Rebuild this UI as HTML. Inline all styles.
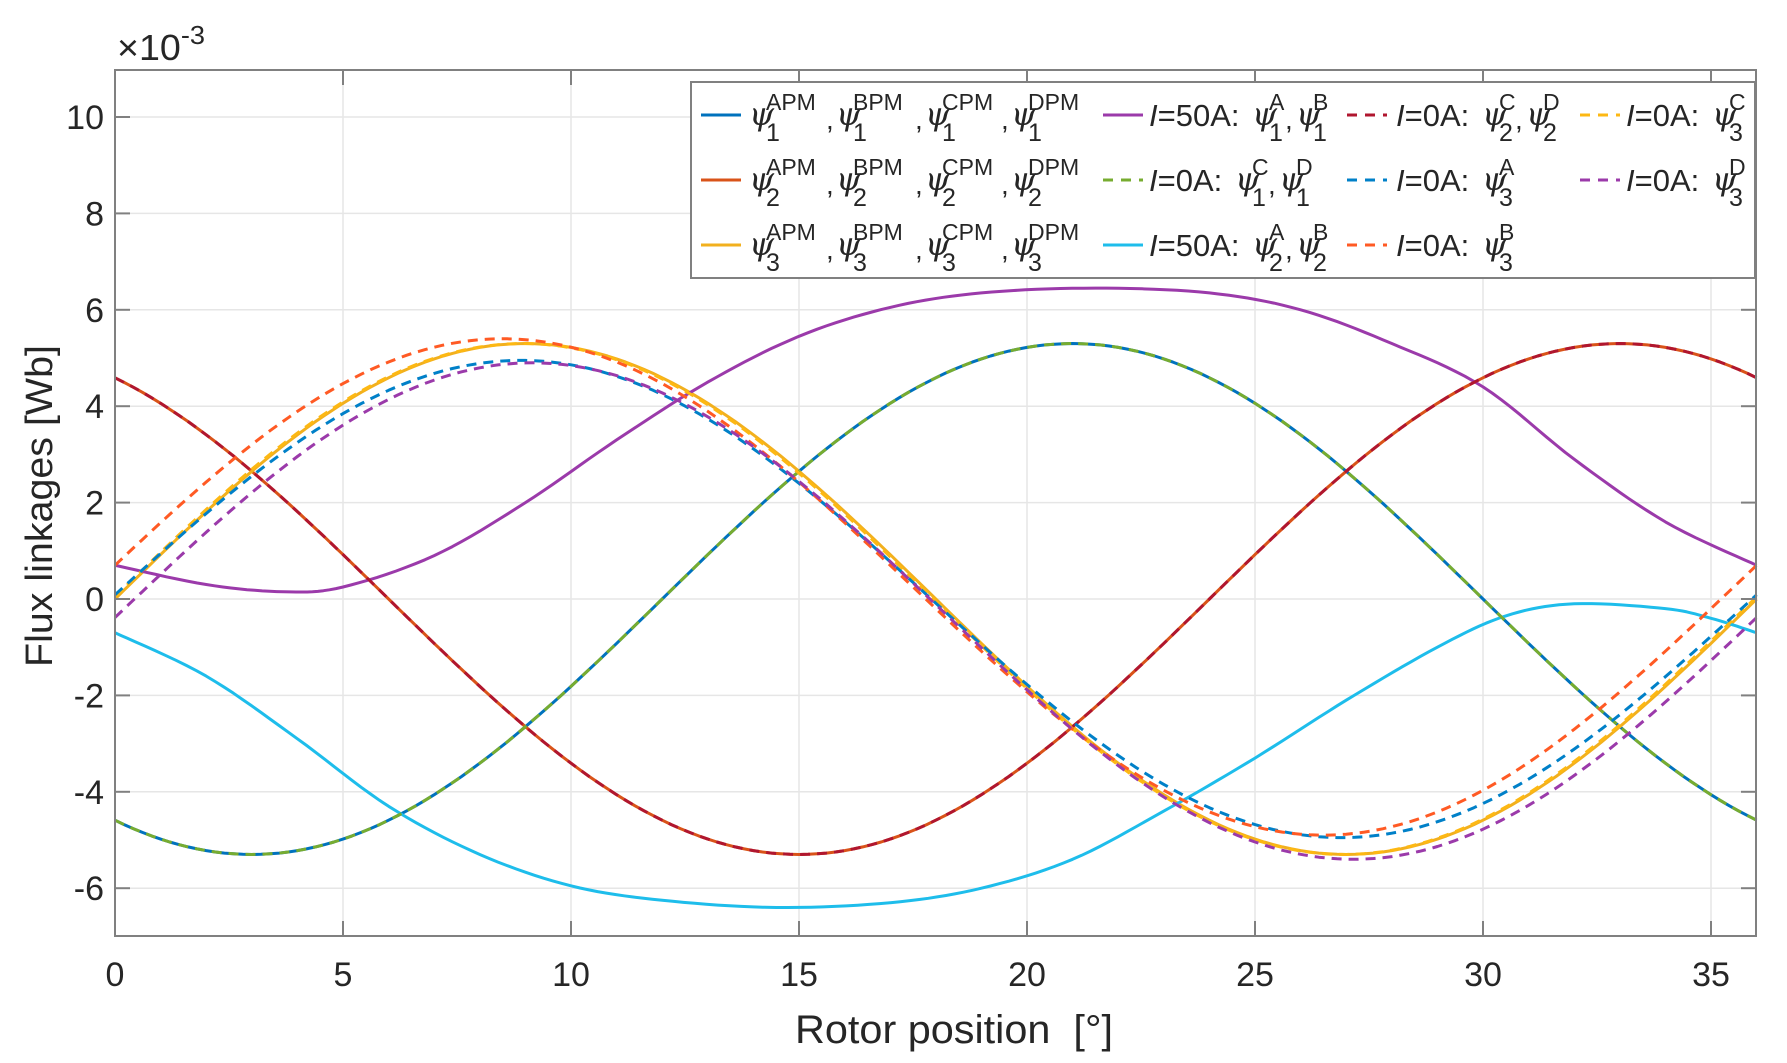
<!DOCTYPE html>
<html><head><meta charset="utf-8"><style>
html,body{margin:0;padding:0;background:#fff;}
svg{display:block;font-family:"Liberation Sans",sans-serif;}
</style></head><body>
<svg id="s" width="1787" height="1063" viewBox="0 0 1787 1063" xmlns="http://www.w3.org/2000/svg">
<rect width="1787" height="1063" fill="#fff"/>
<g id="grid"></g>
<g id="curves" fill="none" stroke-width="3" stroke-linejoin="round"></g>
<g id="axes"></g>
<g id="legend"></g>
<text x="117" y="60" font-size="36" fill="#262626" textLength="88" lengthAdjust="spacingAndGlyphs">×10<tspan dy="-16" font-size="26">-3</tspan></text>
<text x="795" y="1043" font-size="40" fill="#262626" textLength="318" lengthAdjust="spacingAndGlyphs" xml:space="preserve">Rotor position  [°]</text>
<text transform="translate(52,506) rotate(-90)" font-size="38" fill="#262626" text-anchor="middle" textLength="322" lengthAdjust="spacingAndGlyphs">Flux linkages [Wb]</text>
</svg>
<script>
var NS="http://www.w3.org/2000/svg";
function X(x){return 115+x*45.6;}
function Y(y){return 599-y*48.2;}
function el(tag,attrs,parent,txt){var e=document.createElementNS(NS,tag);for(var k in attrs)e.setAttribute(k,attrs[k]);if(txt!==undefined)e.textContent=txt;parent.appendChild(e);return e;}
var grid=document.getElementById('grid'),axes=document.getElementById('axes'),cur=document.getElementById('curves'),leg=document.getElementById('legend');
var L=115,R=1756,T=70,B=936;
for(var x=0;x<=35;x+=5){el('line',{x1:X(x),x2:X(x),y1:T,y2:B,stroke:'#e6e6e6','stroke-width':1.5},grid);
 el('line',{x1:X(x),x2:X(x),y1:B,y2:B-15,stroke:'#808080','stroke-width':2},axes);
 el('line',{x1:X(x),x2:X(x),y1:T,y2:T+15,stroke:'#808080','stroke-width':2},axes);
 el('text',{x:X(x),y:B+50,'font-size':34,fill:'#262626','text-anchor':'middle'},axes,String(x));}
for(var y=-6;y<=10;y+=2){el('line',{x1:L,x2:R,y1:Y(y),y2:Y(y),stroke:'#e6e6e6','stroke-width':1.5},grid);
 el('line',{x1:L,x2:L+15,y1:Y(y),y2:Y(y),stroke:'#808080','stroke-width':2},axes);
 el('line',{x1:R,x2:R-15,y1:Y(y),y2:Y(y),stroke:'#808080','stroke-width':2},axes);
 el('text',{x:104,y:Y(y)+12,'font-size':34,fill:'#262626','text-anchor':'end'},axes,String(y));}
el('rect',{x:L,y:T,width:R-L,height:B-T,fill:'none',stroke:'#808080','stroke-width':2},axes);
function fpath(f){var d='';for(var i=0;i<=180;i++){var x=36*i/180;d+=(i?'L':'M')+X(x).toFixed(1)+','+Y(f(x)).toFixed(1);}return d;}
function spath(p){var d='M'+X(p[0][0])+','+Y(p[0][1]);for(var i=0;i<p.length-1;i++){var p0=p[Math.max(0,i-1)],p1=p[i],p2=p[i+1],p3=p[Math.min(p.length-1,i+2)];
 for(var t=0.1;t<=1.0001;t+=0.1){var t2=t*t,t3=t2*t;function cr(a,b,c,e){return 0.5*((2*b)+(-a+c)*t+(2*a-5*b+4*c-e)*t2+(-a+3*b-3*c+e)*t3);}
 d+='L'+X(cr(p0[0],p1[0],p2[0],p3[0])).toFixed(1)+','+Y(cr(p0[1],p1[1],p2[1],p3[1])).toFixed(1);}}return d;}
var D=Math.PI/18;
function add(d,c,dash){var a={d:d,stroke:c};if(dash)a['stroke-dasharray']='10 7';el('path',a,cur);}
var purple=[[0,0.7],[2,0.3],[3.7,0.15],[5,0.25],[7,0.9],[9,2.0],[11,3.3],[13,4.5],[15,5.45],[17,6.05],[19,6.35],[21.5,6.45],[24,6.35],[26,6.0],[28,5.3],[30,4.4],[32,2.9],[34,1.6],[36,0.7]];
var cyan=[[0,-0.7],[2,-1.6],[4,-2.9],[6,-4.3],[8,-5.3],[10,-5.95],[12,-6.25],[14.5,-6.4],[17,-6.3],[19,-6.0],[21,-5.4],[23,-4.4],[25,-3.3],[27,-2.1],[29,-1.0],[30.5,-0.35],[32,-0.1],[34,-0.2],[35,-0.4],[36,-0.7]];
add(fpath(function(x){return -5.3*Math.cos(D*(x-3));}),'#0072BD');
add(fpath(function(x){return 5.3*Math.cos(D*(x-33));}),'#D95319');
add(fpath(function(x){return 5.3*Math.sin(D*x);}),'#F2B01E');
add(spath(purple),'#9B3AAA');
add(spath(cyan),'#1EBDEB');
add(fpath(function(x){return -5.3*Math.cos(D*(x-3));}),'#77AC30',1);
add(fpath(function(x){return 5.3*Math.cos(D*(x-33));}),'#B0162F',1);
add(fpath(function(x){return 5.3*Math.sin(D*(x+0.05));}),'#FDB813',1);
add(fpath(function(x){return 4.95*Math.sin(D*(x+0.1));}),'#0080C8',1);
add(fpath(function(x){return 0.25+5.15*Math.sin(D*(x+0.5));}),'#FF5A24',1);
add(fpath(function(x){return -0.25+5.15*Math.sin(D*(x-0.15));}),'#9B3AAA',1);
// legend
el('rect',{x:691,y:82,width:1064,height:196,fill:'#fff',stroke:'#808080','stroke-width':2},leg);
var rows=[115,180,245];
function psi(x,ry,sup,sub){el('text',{x:x,y:ry+10,'font-size':32,'font-style':'italic',fill:'#262626','font-family':'"DejaVu Serif",serif'},leg,'ψ');
 el('text',{x:x+17,y:ry-5,'font-size':23,fill:'#262626'},leg,sup);el('text',{x:x+17,y:ry+26,'font-size':25,fill:'#262626'},leg,sub);}
function txt(x,ry,s){var t=el('text',{x:x,y:ry+11,'font-size':31,fill:'#262626'},leg);el('tspan',{'font-style':'italic'},t,'I');el('tspan',{},t,s);}
function line(x,ry,c,dash){var a={x1:x,x2:x+40,y1:ry,y2:ry,stroke:c,'stroke-width':3};if(dash)a['stroke-dasharray']='10 8';el('line',a,leg);}
function comma(x,ry){el('text',{x:x,y:ry+14,'font-size':28,fill:'#262626'},leg,',');}
var pm=['APM','BPM','CPM','DPM'],cols1=['#0072BD','#D95319','#F2B01E'];
for(var r=0;r<3;r++){line(701,rows[r],cols1[r]);var xs=[749,836,925,1011];
 for(var k=0;k<4;k++){if(k)comma(xs[k]-10,rows[r]);psi(xs[k],rows[r],pm[k],String(r+1));}}
line(1103,rows[0],'#9B3AAA');txt(1149,rows[0],'=50A:');psi(1252,rows[0],'A','1');comma(1285,rows[0]);psi(1296,rows[0],'B','1');
line(1103,rows[1],'#77AC30',1);txt(1149,rows[1],'=0A:');psi(1235,rows[1],'C','1');comma(1268,rows[1]);psi(1279,rows[1],'D','1');
line(1103,rows[2],'#1EBDEB');txt(1149,rows[2],'=50A:');psi(1252,rows[2],'A','2');comma(1285,rows[2]);psi(1296,rows[2],'B','2');
line(1347,rows[0],'#B0162F',1);txt(1396,rows[0],'=0A:');psi(1482,rows[0],'C','2');comma(1515,rows[0]);psi(1526,rows[0],'D','2');
line(1347,rows[1],'#0080C8',1);txt(1396,rows[1],'=0A:');psi(1482,rows[1],'A','3');
line(1347,rows[2],'#FF5A24',1);txt(1396,rows[2],'=0A:');psi(1482,rows[2],'B','3');
line(1580,rows[0],'#FDB813',1);txt(1626,rows[0],'=0A:');psi(1712,rows[0],'C','3');
line(1580,rows[1],'#9B3AAA',1);txt(1626,rows[1],'=0A:');psi(1712,rows[1],'D','3');
</script>
</body></html>
